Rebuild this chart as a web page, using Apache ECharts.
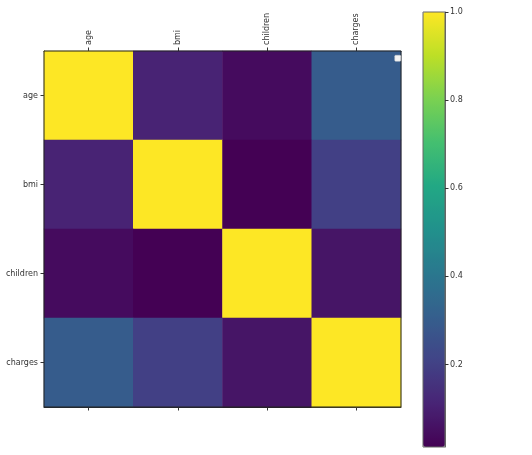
<!DOCTYPE html>
<html>
<head>
<meta charset="utf-8">
<script src="https://cdn.jsdelivr.net/npm/echarts@6/dist/echarts.min.js"></script>
<style>html,body{margin:0;padding:0;background:#fff;}#c{width:532px;height:455px;}</style>
</head>
<body>
<div id="c"></div>
<script>
const categories = ['age', 'bmi', 'children', 'charges'];
// correlation matrix rows (row i, column j)
const corrAge      = [1.0, 0.109, 0.042, 0.299];
const corrBmi      = [0.109, 1.0, 0.0128, 0.198];
const corrChildren = [0.042, 0.0128, 1.0, 0.068];
const corrCharges  = [0.299, 0.198, 0.068, 1.0];
const colorbarTicks = [0.2, 0.4, 0.6, 0.8, 1.0];
const colorMin = 0.0128;
const colorMax = 1.0;

const rows = [corrAge, corrBmi, corrChildren, corrCharges];
const data = [];
rows.forEach((r, i) => r.forEach((v, j) => data.push([j, i, v])));

const viridis = ['#440154','#482475','#414487','#355f8d','#2a788e','#21918c','#22a884','#44bf70','#7ad151','#bddf26','#fde725'];
const font = 'DejaVu Sans';
const tick = {show: true, alignWithLabel: true, length: 3.5, lineStyle: {color: '#333', width: 1}};
const line = {show: true, lineStyle: {color: '#222', width: 1}};
const chart = echarts.init(document.getElementById('c'));
chart.setOption({
  animation: false,
  backgroundColor: '#fff',
  grid: [
    {left: 44, top: 51, width: 357, height: 356, show: true, borderColor: '#222', borderWidth: 1, z: 5, backgroundColor: 'transparent'},
    {left: 423, top: 12, width: 22, height: 435, show: true, borderColor: '#666', borderWidth: 1, backgroundColor: 'transparent', z: 10}
  ],
  xAxis: [
    {type: 'category', data: categories, gridIndex: 0, position: 'top',
     axisLine: line, splitLine: {show: false}, axisTick: tick,
     axisLabel: {rotate: -90, fontSize: 8, fontFamily: font, color: '#333', margin: 6}},
    {type: 'category', data: categories, gridIndex: 0, position: 'bottom',
     axisLine: line, splitLine: {show: false}, axisTick: tick,
     axisLabel: {show: false}},
    {type: 'value', gridIndex: 1, min: 0, max: 1, show: false}
  ],
  yAxis: [
    {type: 'category', data: categories, gridIndex: 0, inverse: true,
     axisLine: line, splitLine: {show: false}, axisTick: tick,
     axisLabel: {fontSize: 8, fontFamily: font, color: '#333', margin: 6}},
    {type: 'value', gridIndex: 1, position: 'right', min: colorMin, max: colorMax, z: 20,
     axisLine: {show: true, onZero: false, lineStyle: {color: '#666', width: 1}}, splitLine: {show: false},
     axisTick: {show: true, inside: false, length: 3.5, customValues: colorbarTicks, lineStyle: {color: '#333', width: 1}},
     axisLabel: {fontSize: 8, fontFamily: font, color: '#333', margin: 5, customValues: colorbarTicks,
       formatter: v => v.toFixed(1)}}
  ],
  visualMap: {
    type: 'continuous', min: colorMin, max: colorMax, seriesIndex: 0,
    inRange: {color: viridis},
    calculable: false, showLabel: false, text: null,
    orient: 'vertical', left: 423, top: 12, itemWidth: 22, itemHeight: 435,
    padding: 0, borderWidth: 0
  },
  graphic: [
    {type: 'rect', right: 131, top: 55, shape: {width: 6, height: 6, r: 1},
     style: {fill: '#f4f4f4', stroke: '#ccc', lineWidth: 0.5}, z: 20}
  ],
  series: [
    {type: 'heatmap', xAxisIndex: 0, yAxisIndex: 0, data: data, itemStyle: {borderWidth: 0}}
  ]
});
</script>
</body>
</html>
